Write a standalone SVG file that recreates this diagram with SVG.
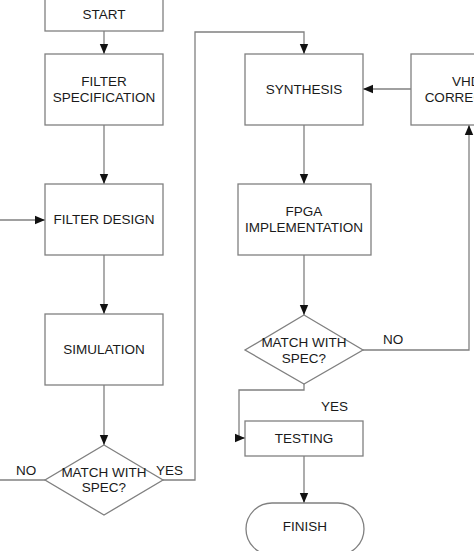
<svg xmlns="http://www.w3.org/2000/svg" width="474" height="551" viewBox="0 0 474 551">
<defs>
<marker id="ah" markerUnits="userSpaceOnUse" markerWidth="10" markerHeight="10" viewBox="0 0 10 10" refX="10" refY="5" orient="auto">
<path d="M0,0.8 L10,5 L0,9.2 Z" fill="#111"/>
</marker>
<style>
.box{fill:#fff;stroke:#808080;stroke-width:1.3}
.ln{fill:none;stroke:#808080;stroke-width:1.3}
.ar{fill:none;stroke:#808080;stroke-width:1.3;marker-end:url(#ah)}
text{font-family:"Liberation Sans",Arial,sans-serif;font-size:13.5px;fill:#1a1a1a;text-anchor:middle}
.lb{text-anchor:start}
</style>
</defs>
<rect width="474" height="551" fill="#fff"/>
<g id="connectors">
<path class="ar" d="M104,31 V54"/>
<path class="ar" d="M104,125 V184"/>
<path class="ar" d="M0,220 H45"/>
<path class="ar" d="M104,255 V314"/>
<path class="ar" d="M104,385 V445"/>
<path class="ln" d="M45,480 H0"/>
<path class="ar" d="M163,480 H195 V32 H304 V54"/>
<path class="ar" d="M411,89 H363"/>
<path class="ar" d="M304,125 V184"/>
<path class="ar" d="M304,255 V315"/>
<path class="ar" d="M363,350 H469 V125"/>
<path class="ar" d="M304,384 V390 H239 V438 H245"/>
<path class="ar" d="M304,456 V503"/>
</g>
<g id="start"><rect class="box" x="45" y="-10" width="118" height="41"/><text x="104" y="19">START</text></g>
<g id="filter-spec"><rect class="box" x="45" y="54" width="118" height="71"/><text x="104" y="86">FILTER</text><text x="104" y="102">SPECIFICATION</text></g>
<g id="filter-design"><rect class="box" x="45" y="184" width="118" height="71"/><text x="104" y="224">FILTER DESIGN</text></g>
<g id="simulation"><rect class="box" x="45" y="314" width="118" height="71"/><text x="104" y="354">SIMULATION</text></g>
<g id="decision1"><path class="box" d="M104,445 L163,480 L104,515 L45,480 Z"/><text x="104" y="477">MATCH WITH</text><text x="104" y="492">SPEC?</text></g>
<g id="synthesis"><rect class="box" x="245" y="54" width="118" height="71"/><text x="304" y="94">SYNTHESIS</text></g>
<g id="vhdl"><rect class="box" x="411" y="54" width="118" height="71"/><text x="470" y="86">VHDL</text><text x="470" y="102">CORRECTION</text></g>
<g id="fpga"><rect class="box" x="238" y="184" width="133" height="71"/><text x="304" y="216">FPGA</text><text x="304" y="232">IMPLEMENTATION</text></g>
<g id="decision2"><path class="box" d="M304,315 L363,350 L304,384 L245,350 Z"/><text x="304" y="347">MATCH WITH</text><text x="304" y="363">SPEC?</text></g>
<g id="testing"><rect class="box" x="245" y="421" width="118" height="35"/><text x="304" y="443">TESTING</text></g>
<g id="finish"><rect class="box" x="246" y="503" width="118" height="52" rx="26" ry="26"/><text x="305" y="531">FINISH</text></g>
<g id="labels">
<text class="lb" x="16" y="475">NO</text>
<text class="lb" x="156" y="475">YES</text>
<text class="lb" x="383" y="344">NO</text>
<text class="lb" x="321" y="411">YES</text>
</g>
</svg>
